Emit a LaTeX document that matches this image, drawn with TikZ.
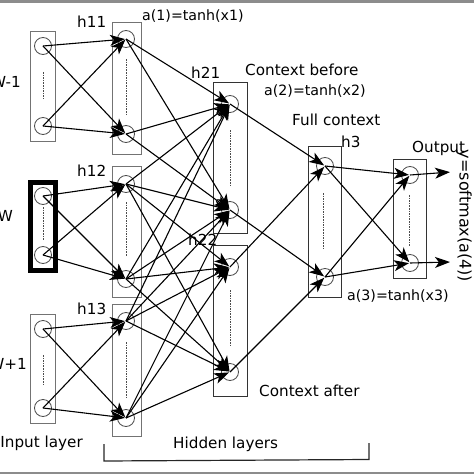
\documentclass[tikz,border=0pt]{standalone}
\usepackage{fontspec}
\setmainfont{DejaVu Sans}
\usetikzlibrary{arrows.meta}
\begin{document}
\begin{tikzpicture}[x=1pt,y=-1pt,
  neuron/.style={circle,draw=black!70,line width=0.8pt,minimum size=17pt,inner sep=0pt},
  graybox/.style={draw=black!55,line width=1pt,inner sep=0pt},
  darkbox/.style={draw=black!80,line width=1pt,inner sep=0pt},
  thickbox/.style={draw=black,line width=5pt,inner sep=0pt},
  conn/.style={draw=black,line width=1.1pt,-{Stealth[length=15pt,width=11pt,inset=4pt]},shorten >=1pt},
  dotline/.style={draw=black!70,line width=0.9pt,dash pattern=on 1.6pt off 1pt},
  lbl/.style={font=\fontsize{15.2pt}{18pt}\selectfont,inner sep=0pt,text=black},
  flbl/.style={font=\fontsize{14.2pt}{17pt}\selectfont,inner sep=0pt,text=black},
  brack/.style={draw=black!85,line width=1.2pt},
  band/.style={fill=black!45,draw=none}
]
\useasboundingbox (0,0) rectangle (474,474);
\fill[band] (0,0) rectangle (474,2.5);
\fill[band] (0,471.5) rectangle (474,474);

% boxes
\node[graybox,minimum width=25pt,minimum height=110pt] (bWm) at (42.5,86) {};
\node[thickbox,minimum width=25pt,minimum height=88pt] (bW) at (43,226.5) {};
\node[graybox,minimum width=25pt,minimum height=109pt] (bWp) at (42.5,368.5) {};
\node[graybox,minimum width=29pt,minimum height=132pt] (b11) at (126.5,88) {};
\node[graybox,minimum width=29pt,minimum height=131pt] (b12) at (126.5,231.5) {};
\node[graybox,minimum width=29pt,minimum height=132pt] (b13) at (126.5,370) {};
\node[darkbox,minimum width=34pt,minimum height=151pt] (b21) at (230,157.5) {};
\node[darkbox,minimum width=34pt,minimum height=151pt] (b22) at (230,320.5) {};
\node[darkbox,minimum width=33pt,minimum height=151pt] (b3) at (324.5,221.5) {};
\node[darkbox,minimum width=33pt,minimum height=119pt] (bo) at (409.5,218.5) {};

% dotted lines inside boxes
\draw[dotline] (43,72) -- (43,99);
\draw[dotline] (43,207) -- (43,240);
\draw[dotline] (43,355) -- (43,384);
\draw[dotline] (126,59) -- (126,115);
\draw[dotline] (126,202) -- (126,256);
\draw[dotline] (126,342) -- (126,397);
\draw[dotline] (230,130) -- (230,185);
\draw[dotline] (230,290) -- (230,345);
\draw[dotline] (323,193) -- (323,248);
\draw[dotline] (409,195) -- (409,247);

% neurons
\node[neuron] (i1a) at (43,46) {};
\node[neuron] (i1b) at (43,126) {};
\node[neuron] (i2a) at (43,196) {};
\node[neuron] (i2b) at (43,255) {};
\node[neuron] (i3a) at (43,329) {};
\node[neuron] (i3b) at (43,408) {};
\node[neuron] (h11a) at (126,39) {};
\node[neuron] (h11b) at (126,134) {};
\node[neuron] (h12a) at (126,184) {};
\node[neuron] (h12b) at (126,279) {};
\node[neuron] (h13a) at (126,321) {};
\node[neuron] (h13b) at (126,418) {};
\node[neuron] (h21a) at (230,104) {};
\node[neuron] (h21b) at (230,210) {};
\node[neuron] (h22a) at (230,267) {};
\node[neuron] (h22b) at (230,372) {};
\node[neuron] (h3a) at (325,166) {};
\node[neuron] (h3b) at (325,277) {};
\node[neuron] (oa) at (410,175) {};
\node[neuron] (ob) at (410,263) {};
\coordinate (oae) at (451,172);
\coordinate (obe) at (451,262);

% input -> hidden 1
\foreach \g in {1,2,3}{
  \foreach \s in {a,b}{
    \foreach \t in {a,b}{
      \draw[conn] (i\g\s.center) -- (h1\g\t.center);
    }
  }
}
% hidden 1 -> hidden 2
\foreach \s in {a,b}{
  \foreach \t in {a,b}{
    \draw[conn] (h11\s.center) -- (h21\t.center);
    \draw[conn] (h12\s.center) -- (h21\t.center);
    \draw[conn] (h12\s.center) -- (h22\t.center);
    \draw[conn] (h13\s.center) -- (h22\t.center);
  }
}
\draw[conn] (h13a.center) -- (h21a.center);
\draw[conn] (h13a.center) -- (h21b.center);
\draw[conn] (h13b.center) -- (h21b.center);
% hidden 2 -> hidden 3
\draw[conn] (h21a.center) -- (h3a.center);
\draw[conn] (h21b.center) -- (h3b.center);
\draw[conn] (h22a.center) -- (h3a.center);
\draw[conn] (h22b.center) -- (h3b.center);
% hidden 3 -> output
\foreach \s in {a,b}{
  \foreach \t in {a,b}{
    \draw[conn] (h3\s.center) -- (o\t.center);
  }
}
\draw[conn] (oa.center) -- (oae);
\draw[conn] (ob.center) -- (obe);

% labels
\node[lbl,anchor=base east] (tWm) at (21,87) {W-1};
\node[lbl,anchor=base east] (tW) at (13,221.5) {W};
\node[lbl,anchor=base east] (tWp) at (27,369) {W+1};
\node[lbl,anchor=base east] (tin) at (83,447) {Input layer};
\node[lbl,anchor=base west] (th11) at (77,27) {h11};
\node[lbl,anchor=base west] (th12) at (77,176) {h12};
\node[lbl,anchor=base west] (th13) at (77,314) {h13};
\node[flbl,anchor=base west] (ta1) at (142,20.5) {a(1)=tanh(x1)};
\node[lbl,anchor=base west] (th21) at (191,78) {h21};
\node[lbl,anchor=base west] (th22) at (188,245) {h22};
\node[lbl,anchor=base west] (tcb) at (245,75) {Context before};
\node[flbl,anchor=base west] (ta2) at (264,95.5) {a(2)=tanh(x2)};
\node[lbl,anchor=base west] (tfc) at (292,125) {Full context};
\node[lbl,anchor=base west] (th3) at (341,147) {h3};
\node[lbl,anchor=base west] (tout) at (412,152.5) {Output};
\node[flbl,anchor=base west] (ta3) at (347,300) {a(3)=tanh(x3)};
\node[lbl,anchor=base west] (tca) at (259,396.5) {Context after};
\node[lbl,anchor=base west] (thl) at (173,448) {Hidden layers};
\node[lbl,rotate=-90,font=\fontsize{16pt}{19pt}\selectfont] (tsm) at (464,216) {y=softmax(a(4))};

% bracket
\coordinate (bk1) at (104,444);
\coordinate (bk2) at (104,461);
\coordinate (bk3) at (369,459.5);
\coordinate (bk4) at (369,443);
\draw[brack] (bk1) -- (bk2) -- (bk3) -- (bk4);
\end{tikzpicture}
\end{document}
